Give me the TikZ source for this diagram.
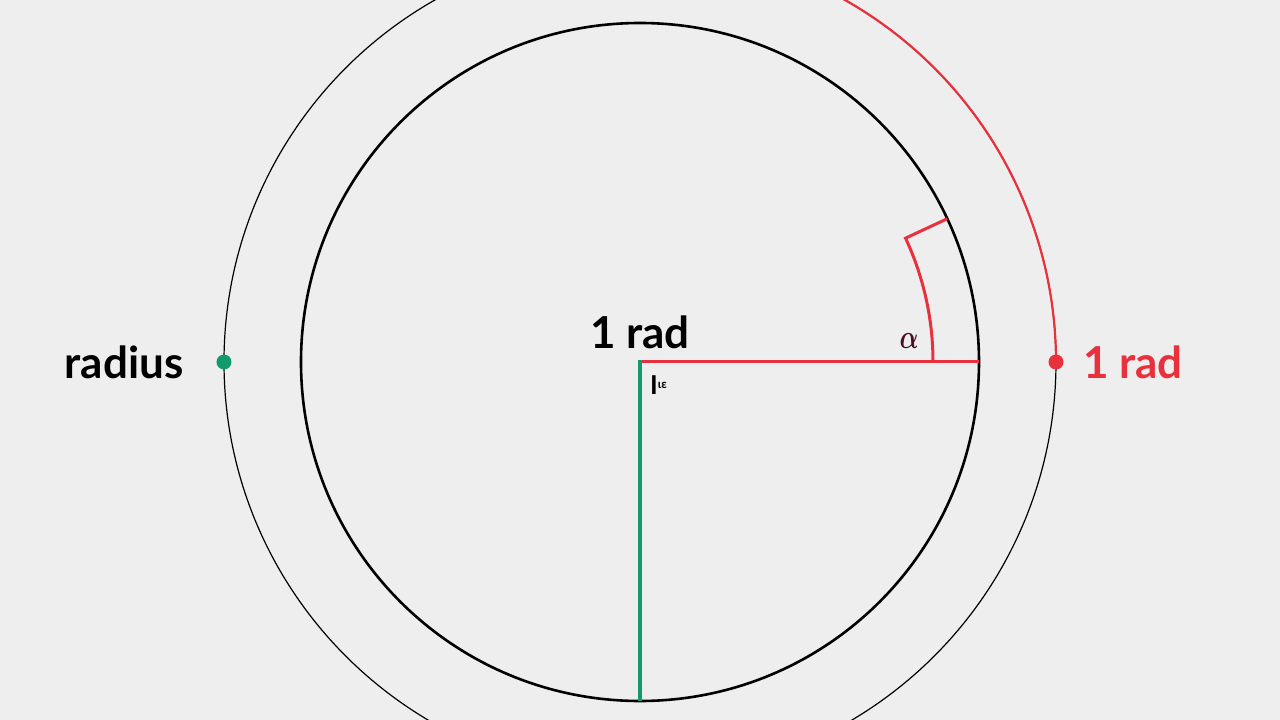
\documentclass[tikz,border=0pt]{standalone}
\usepackage{fontspec}
\setmainfont{Lato}
\definecolor{bg}{HTML}{EEEEEE}
\definecolor{myred}{HTML}{E8313C}
\definecolor{mygreen}{HTML}{12996E}
\definecolor{alphacol}{HTML}{4A1020}
\tikzset{
  lbl/.style={font=\fontsize{44}{44}\selectfont\bfseries, inner sep=0pt},
  dotgreen/.style={circle, fill=mygreen, minimum size=15pt, inner sep=0pt},
  dotred/.style={circle, fill=myred, minimum size=15pt, inner sep=0pt},
}
\begin{document}
\begin{tikzpicture}[x=1pt,y=1pt]
\fill[bg] (-640,-358) rectangle (640,362);
\useasboundingbox (-640,-358) rectangle (640,362);
\clip (-640,-358) rectangle (640,362);
\coordinate (O) at (0,0);
\coordinate (R) at (0:339);
\coordinate (B) at (-90:339);
\coordinate (A1) at (0:293);
\coordinate (A2) at (25:293);
\coordinate (A3) at (25:339);
\coordinate (C0) at (0:416);
% circles
\draw[line width=1.2pt] (O) circle (416);
\draw[line width=2.6pt] (O) circle (339);
% red outer arc
\draw[myred, line width=2.2pt] (C0) arc[start angle=0, end angle=100, radius=416];
% radii
\draw[myred, line width=3pt] (O) -- (R);
\draw[mygreen, line width=4pt] ([yshift=2pt]O) -- (B);
% angle mark
\draw[myred, line width=3pt] (A1) arc[start angle=0, end angle=25, radius=293] -- (A3);
% dots
\node[dotgreen] (gd) at (-416,0) {};
\node[dotred] (rd) at (416,0) {};
% labels
\node[lbl] (rad) at (-516,0) {radius};
\node[lbl] (c1) at (0,30) {1 rad};
\node[lbl, text=myred] (r1) at (493,0) {1 rad};
\node[font=\fontsize{52}{52}\selectfont\boldmath, text=alphacol, inner sep=0pt, yscale=1.35] (al) at (269,21) {$\alpha$};
\node[font=\fontsize{26}{26}\selectfont\bfseries, inner sep=0pt, anchor=west] (gl) at (10,-23) {I\raisebox{6pt}{\fontsize{12}{12}\selectfont ιε}};
\end{tikzpicture}
\end{document}
